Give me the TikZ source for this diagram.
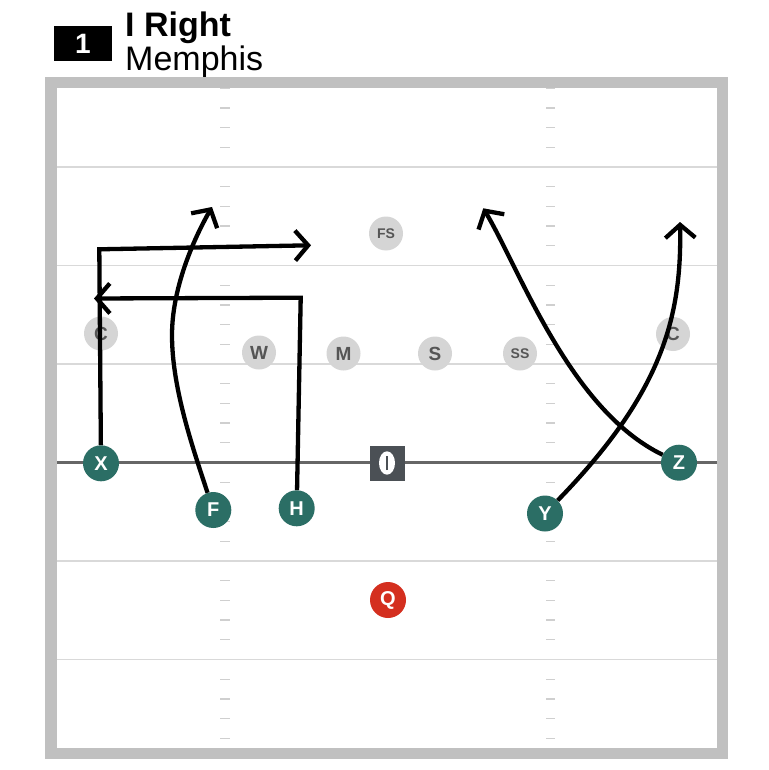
\documentclass[tikz,border=0pt]{standalone}
\usepackage{fontspec}
\setmainfont{Liberation Sans}
\usetikzlibrary{arrows.meta}
\definecolor{framegray}{HTML}{C0C0C0}
\definecolor{yardgray}{HTML}{D9D9D9}
\definecolor{hashgray}{HTML}{CFCFCF}
\definecolor{losgray}{HTML}{666666}
\definecolor{defgray}{HTML}{D5D5D5}
\definecolor{deftext}{HTML}{555555}
\definecolor{offteal}{RGB}{43,110,101}
\definecolor{qbred}{RGB}{212,47,31}
\definecolor{ballgray}{HTML}{4B5055}
\tikzset{
  defender/.style={circle, fill=defgray, minimum size=34pt, inner sep=0pt,
    text=deftext, font=\fontsize{19}{19}\selectfont\bfseries},
  smalldef/.style={defender, font=\fontsize{14}{14}\selectfont\bfseries},
  offense/.style={circle, fill=offteal, minimum size=36pt, inner sep=0pt,
    text=white, font=\fontsize{20}{20}\selectfont\bfseries},
  qb/.style={offense, fill=qbred},
  route/.style={line width=4.3pt, draw=black,
    -{Straight Barb[length=13pt,width=30pt]}},
  yardline/.style={draw=yardgray, line width=1.5pt},
  hashmark/.style={draw=hashgray, line width=1.3pt},
}
\begin{document}
\begin{tikzpicture}[x=1pt,y=-1pt]
\useasboundingbox (0,0) rectangle (768,770);
% title
\node[fill=black, minimum width=58pt, minimum height=35pt, inner sep=0pt,
  text=white, font=\fontsize{28}{28}\selectfont\bfseries] (num) at (83,44) {1};
\node[anchor=base west, inner sep=0pt, font=\fontsize{34}{34}\selectfont\bfseries] (title) at (125,37) {I Right};
\node[anchor=base west, inner sep=0pt, font=\fontsize{34}{34}\selectfont] (sub) at (125,70.5) {Memphis};
% field frame
\fill[framegray] (45,77) rectangle (728,759);
\fill[white] (57,88) rectangle (717,748);
% yard lines
\foreach \y in {167,265.5,364,561,659.5} {
  \draw[yardline] (57,\y) -- (717,\y);
}
% hash marks
\foreach \base in {167,265.5,364,462.5,561,659.5} {
  \foreach \j in {-4,-3,-2,-1,1,2,3,4} {
    \pgfmathsetmacro{\hy}{\base+19.7*\j}
    \pgfmathparse{(\hy>87.5 && \hy<747)?1:0}
    \ifnum\pgfmathresult=1
      \draw[hashmark] (220,\hy) -- (230,\hy);
      \draw[hashmark] (546,\hy) -- (555,\hy);
    \fi
  }
}
% line of scrimmage
\draw[draw=losgray, line width=2.8pt] (57,462.5) -- (717,462.5);
% ball
\node[fill=ballgray, minimum size=35pt, inner sep=0pt] (ball) at (387,463) {};
\fill[white] (ball.center) ellipse [x radius=8pt, y radius=11.7pt];
\draw[ballgray, line width=2pt] ([yshift=-7pt]ball.center) -- ([yshift=7pt]ball.center);
% defense
\node[smalldef] (FS) at (386,233.5) {FS};
\node[defender] (CL) at (101,333.5) {C};
\node[defender] (W) at (259,352.5) {W};
\node[defender] (M) at (343.5,353.5) {M};
\node[defender] (S) at (435,353.5) {S};
\node[smalldef] (SS) at (520,353.5) {SS};
\node[defender] (CR) at (673,334) {C};
% offense
\node[offense] (X) at (101,463.3) {X};
\node[offense] (F) at (213.3,510) {F};
\node[offense] (H) at (296.7,508.3) {H};
\node[offense] (Y) at (545,513.5) {Y};
\node[offense] (Z) at (679,462.7) {Z};
\node[qb] (Q) at (388,600) {Q};
% route end points
\coordinate (xturn) at (99.3,249.3);
\coordinate (xend) at (311,245.3);
\coordinate (hturn) at (300.7,297.7);
\coordinate (hend) at (94,298.5);
\coordinate (fmid) at (172,335);
\coordinate (fend) at (212,207);
\coordinate (zend) at (483.3,208.3);
\coordinate (yend) at (680,222);
% routes
\draw[route] (X) -- (xturn) -- (xend);
\draw[route] (H) -- (hturn) -- (hend);
\draw[route] (F) .. controls (190,440) and (172,385) .. (fmid)
  .. controls (172,290) and (192,242) .. (fend);
\draw[route] (Z) .. controls (570,410) and (520,270) .. (zend);
\draw[route] (Y) .. controls (660,395) and (682,320) .. (yend);
\end{tikzpicture}
\end{document}
